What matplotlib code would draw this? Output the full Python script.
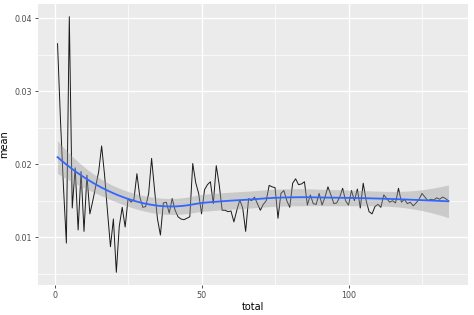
import numpy as np
import matplotlib
matplotlib.use("Agg")
import matplotlib.pyplot as plt

# mean value per total (x = 1..134)
total = list(range(1, 135))
mean = [
    0.0365, 0.0260, 0.0170, 0.0092, 0.0402, 0.0140, 0.0195, 0.0110, 0.0190, 0.0108,
    0.0185, 0.0132, 0.0150, 0.0170, 0.0190, 0.0225, 0.0185, 0.0135, 0.0087, 0.0125,
    0.0052, 0.0115, 0.0141, 0.0114, 0.0153, 0.0148, 0.0152, 0.0187, 0.0155, 0.0141,
    0.0142, 0.0160, 0.0208, 0.0165, 0.0125, 0.0103, 0.0147, 0.0148, 0.0133, 0.0153,
    0.0137, 0.0128, 0.0125, 0.0124, 0.0126, 0.0128, 0.0201, 0.0175, 0.0160, 0.0132,
    0.0165, 0.0172, 0.0176, 0.0146, 0.0198, 0.0172, 0.0137, 0.0137, 0.0135, 0.0136,
    0.0121, 0.0137, 0.0151, 0.0140, 0.0108, 0.0153, 0.0150, 0.0155, 0.0146, 0.0137,
    0.0145, 0.0150, 0.0171, 0.0169, 0.0168, 0.0126, 0.0160, 0.0164, 0.0150, 0.0141,
    0.0174, 0.0180, 0.0172, 0.0173, 0.0176, 0.0144, 0.0158, 0.0146, 0.0145, 0.0160,
    0.0144, 0.0155, 0.0169, 0.0158, 0.0146, 0.0147, 0.0155, 0.0167, 0.0150, 0.0144,
    0.0164, 0.0150, 0.0166, 0.0140, 0.0174, 0.0150, 0.0135, 0.0132, 0.0142, 0.0145,
    0.0141, 0.0158, 0.0153, 0.0148, 0.0150, 0.0147, 0.0167, 0.0148, 0.0152, 0.0146,
    0.0148, 0.0143, 0.0147, 0.0152, 0.0160, 0.0155, 0.0150, 0.0152, 0.0151, 0.0154,
    0.0152, 0.0155, 0.0153, 0.0150,
]

x = np.array(total, dtype=float)
y = np.array(mean)


# loess (local quadratic, tricube weights, span 0.75) like geom_smooth
def loess_rows(x, x0s, span=0.75):
    n = len(x)
    q = int(np.floor(span * n))
    rows = []
    for x0 in x0s:
        d = np.abs(x - x0)
        h = np.sort(d)[q - 1]
        w = np.clip(1 - (d / h) ** 3, 0, None) ** 3
        X = np.column_stack([np.ones(n), x - x0, (x - x0) ** 2])
        XtW = X.T * w
        rows.append(np.linalg.solve(XtW @ X, XtW)[0])
    return np.array(rows)


L = loess_rows(x, x)
resid = y - L @ y
IL = np.eye(len(x)) - L
delta1 = np.trace(IL.T @ IL)
sigma = np.sqrt(np.sum(resid ** 2) / delta1)

xs = np.linspace(x.min(), x.max(), 80)
Ls = loess_rows(x, xs)
fit = Ls @ y
se = sigma * np.sqrt(np.sum(Ls ** 2, axis=1))
tq = 1.98

fig = plt.figure(figsize=(4.74, 3.15), dpi=100)
ax = fig.add_axes([38 / 474, 1 - 285 / 315, 430 / 474, 281 / 315])
ax.set_facecolor("#EBEBEB")

ax.set_xticks([0, 50, 100])
ax.set_xticks([25, 75, 125], minor=True)
ax.set_yticks([0.01, 0.02, 0.03, 0.04])
ax.set_yticks([0.005, 0.015, 0.025, 0.035], minor=True)
ax.set_yticklabels(["0.01", "0.02", "0.03", "0.04"])
ax.grid(True, which="major", color="white", lw=1.0)
ax.grid(True, which="minor", color="white", lw=0.5)
ax.set_axisbelow(True)
for s in ax.spines.values():
    s.set_visible(False)

ax.plot(x, y, color="#1A1A1A", lw=0.7, zorder=3)
ax.fill_between(xs, fit - tq * se, fit + tq * se, color="#999999", alpha=0.4,
                lw=0, zorder=4)
ax.plot(xs, fit, color="#3366FF", lw=1.3, zorder=5)

ax.set_xlim(-5.65, 140.65)
ax.set_ylim(0.00346, 0.04194)

ax.tick_params(which="major", length=2.5, width=0.6, color="#333333",
               labelsize=5.8, labelcolor="#4D4D4D", pad=1.5)
ax.tick_params(which="minor", length=0)
ax.set_xlabel("total", fontsize=7, color="black", labelpad=2)
ax.set_ylabel("mean", fontsize=7, color="black", labelpad=4)

fig.savefig("out.png", dpi=100)
